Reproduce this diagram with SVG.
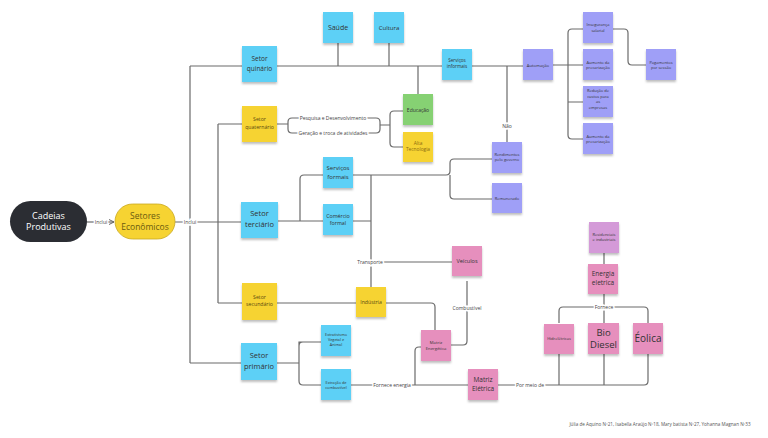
<svg xmlns="http://www.w3.org/2000/svg" width="768" height="438" viewBox="0 0 768 438">
<defs>
<filter id="sh" x="-20%" y="-20%" width="140%" height="150%"><feDropShadow dx="0" dy="2" stdDeviation="1.2" flood-color="#000" flood-opacity="0.25"/></filter>
<marker id="arr" viewBox="0 0 6 6" refX="5" refY="3" markerWidth="5" markerHeight="5" orient="auto"><path d="M0,0.5 L5,3 L0,5.5" fill="none" stroke="#666" stroke-width="1"/></marker>
<style>
.c{fill:none;stroke:#6b6b6b;stroke-width:1.2}
.t{font-family:"Open Sans","Noto Sans",sans-serif;text-anchor:middle;fill:#333}
.lb{font-family:"Open Sans","Noto Sans",sans-serif;text-anchor:middle;fill:#444;stroke:#fff;stroke-width:3;paint-order:stroke;font-size:5px}
.blue{fill:#5dd0f6}
.yel{fill:#f6d332}
.pur{fill:#9f9ff7}
.pink{fill:#e68fbd}
.grn{fill:#86d173}
.lil{fill:#d49ad8}
.s{filter:url(#sh)}
</style>
</defs>
<rect width="768" height="438" fill="#fff"/>
<g id="connectors">
<path class="c" d="M87,222 H114" marker-end="url(#arr)"/>
<path class="c" d="M175,222 H241"/>
<path class="c" d="M190,66 V363 M190,66 H242 M190,363 H241"/>
<path class="c" d="M218,124 V303 M218,124 H242 M218,303 H242"/>
<path class="c" d="M277,66 H523 M338,43 V66 M389,43 V66 M418,66 V94"/>
<path class="c" d="M507,66 V142"/>
<path class="c" d="M553,65 H568 M572,29 H583 M568,33 Q568,29 572,29 M568,33 V135 Q568,139 572,139 H583 M568,65 H583 M568,102 H583"/>
<path class="c" d="M613,29 H624 Q628,29 628,33 V61 Q628,65 632,65 H646"/>
<path class="c" d="M277,124 H288 M288,122 V122 M292,118 Q288,118 288,122 V129 Q288,133 292,133 H376 Q380,133 380,129 V122 Q380,118 376,118 H292 M380,125 H390 M394,111 Q390,111 390,115 V143 Q390,147 394,147 H403 M394,111 H403"/>
<path class="c" d="M278,221 H323 M300,221 V179 Q300,175 304,175 H323 M353,175 H446 Q450,175 450,171 V163 Q450,159 454,159 H492 M450,175 V195 Q450,199 454,199 H492 M353,221 H371 M371,175 V287"/>
<path class="c" d="M371,262 H452"/>
<path class="c" d="M277,303 H356 M386,303 H431 Q435,303 435,307 V330"/>
<path class="c" d="M467,281 V341 Q467,345 463,345 H451"/>
<path class="c" d="M277,363 H299 M303,342 Q299,342 299,346 V381 Q299,385 303,385 H321 M299,346 V342 H321"/>
<path class="c" d="M351,385 H468 M415,385 V351 Q415,347 419,347 H421"/>
<path class="c" d="M498,385 H644 Q648,385 648,381 V354 M559,354 V385 M604,354 V385"/>
<path class="c" d="M604,253 V264 M604,294 V323 M563,307 H644 Q648,307 648,311 V323 M559,323 V311 Q559,307 563,307"/>
</g>
<g id="cadeias"><rect x="10" y="201" width="77" height="41" rx="20.5" fill="#2b2d33"/><text class="t" x="48.5" y="218.5" font-size="9" fill="#fff" style="fill:#fff">Cadeias</text><text class="t" x="48.5" y="230" font-size="9" style="fill:#fff">Produtivas</text></g>
<text class="lb" x="101" y="224" font-size="5">Inclui</text>
<g id="setores"><rect x="115" y="204" width="60" height="35" rx="17.5" fill="#f6d332" stroke="#c9a820" stroke-width="0.8"/><text class="t" x="145" y="219" font-size="8.5" style="fill:#6a5a10">Setores</text><text class="t" x="145" y="230" font-size="8.5" style="fill:#6a5a10">Econômicos</text></g>
<text class="lb" x="190" y="224">Inclui</text>
<g id="quinario"><rect class="blue s" x="242" y="46" width="35" height="36"/><text class="t" x="259.5" y="61" font-size="6.5">Setor</text><text class="t" x="259.5" y="71" font-size="6.5">quinário</text></g>
<g id="saude"><rect class="blue s" x="323" y="12" width="30" height="31"/><text class="t" x="338" y="30" font-size="7">Saúde</text></g>
<g id="cultura"><rect class="blue s" x="374" y="12" width="30" height="31"/><text class="t" x="389" y="29.5" font-size="6">Cultura</text></g>
<g id="informais"><rect class="blue s" x="442" y="49" width="30" height="31"/><text class="t" x="457" y="62" font-size="4.6">Serviços</text><text class="t" x="457" y="68" font-size="4.6">informais</text></g>
<g id="automacao"><rect class="pur s" x="523" y="49" width="30" height="31"/><text class="t" x="538" y="66.5" font-size="4.2">Automação</text></g>
<g id="inseguranca"><rect class="pur s" x="583" y="12" width="30" height="31"/><text class="t" x="598" y="26" font-size="4">Insegurança</text><text class="t" x="598" y="31.5" font-size="4">salarial</text></g>
<g id="precarizacao1"><rect class="pur s" x="583" y="49" width="30" height="31"/><text class="t" x="598" y="63.5" font-size="4">Aumento da</text><text class="t" x="598" y="68.5" font-size="4">precarização</text></g>
<g id="reducao"><rect class="pur s" x="583" y="86" width="30" height="31"/><text class="t" x="598" y="92" font-size="4">Redução de</text><text class="t" x="598" y="97.5" font-size="4">custos para</text><text class="t" x="598" y="103" font-size="4">as</text><text class="t" x="598" y="108.5" font-size="4">empresas</text></g>
<g id="precarizacao2"><rect class="pur s" x="583" y="123" width="30" height="31"/><text class="t" x="598" y="137.5" font-size="4">Aumento da</text><text class="t" x="598" y="142.5" font-size="4">precarização</text></g>
<g id="pagamentos"><rect class="pur s" x="646" y="49" width="30" height="31"/><text class="t" x="661" y="63.5" font-size="4">Pagamentos</text><text class="t" x="661" y="68.5" font-size="4">por sessão</text></g>
<g id="quaternario"><rect class="yel s" x="242" y="106" width="35" height="36"/><text class="t" x="259.5" y="121" font-size="5.2" style="fill:#5a4a10">Setor</text><text class="t" x="259.5" y="128.5" font-size="5.2" style="fill:#5a4a10">quaternário</text></g>
<text class="lb" x="333" y="120">Pesquisa e Desenvolvimento</text>
<text class="lb" x="333" y="135">Geração e troca de atividades</text>
<g id="educacao"><rect class="grn s" x="403" y="94" width="30" height="31"/><text class="t" x="418" y="111.5" font-size="5">Educação</text></g>
<g id="alta"><rect class="yel s" x="403" y="132" width="30" height="30"/><text class="t" x="418" y="145" font-size="4.8" style="fill:#8a6a10">Alta</text><text class="t" x="418" y="151" font-size="4.8" style="fill:#8a6a10">Tecnologia</text></g>
<text class="lb" x="507" y="127.5">Não</text>
<g id="rendimentos"><rect class="pur s" x="492" y="142" width="30" height="31"/><text class="t" x="507" y="155.5" font-size="4">Rendimentos</text><text class="t" x="507" y="160.5" font-size="4">pelo governo</text></g>
<g id="remunerado"><rect class="pur s" x="492" y="183" width="30" height="30"/><text class="t" x="507" y="199.5" font-size="4">Remunerado</text></g>
<g id="terciario"><rect class="blue s" x="241" y="202" width="37" height="36"/><text class="t" x="259.5" y="215.5" font-size="7.5">Setor</text><text class="t" x="259.5" y="227" font-size="7.5">terciário</text></g>
<g id="formais"><rect class="blue s" x="323" y="157" width="30" height="31"/><text class="t" x="338" y="170" font-size="6">Serviços</text><text class="t" x="338" y="179" font-size="6">formais</text></g>
<g id="comercio"><rect class="blue s" x="323" y="204" width="30" height="31"/><text class="t" x="338" y="217.5" font-size="5.3">Comércio</text><text class="t" x="338" y="225" font-size="5.3">formal</text></g>
<text class="lb" x="370" y="264">Transporte</text>
<g id="veiculos"><rect class="pink s" x="452" y="246" width="30" height="30"/><text class="t" x="467" y="262.5" font-size="5.5">Veículos</text></g>
<g id="secundario"><rect class="yel s" x="242" y="283" width="35" height="37"/><text class="t" x="259.5" y="299" font-size="5.2" style="fill:#5a4a10">Setor</text><text class="t" x="259.5" y="306" font-size="5.2" style="fill:#5a4a10">secundário</text></g>
<g id="industria"><rect class="yel s" x="356" y="287" width="30" height="30"/><text class="t" x="371" y="303.5" font-size="5.2" style="fill:#5a4a10">Indústria</text></g>
<text class="lb" x="467" y="310">Combustível</text>
<g id="matrizenerg"><rect class="pink s" x="421" y="330" width="30" height="31"/><text class="t" x="436" y="344" font-size="4.2">Matriz</text><text class="t" x="436" y="349.5" font-size="4.2">Energética</text></g>
<g id="primario"><rect class="blue s" x="241" y="343" width="36" height="37"/><text class="t" x="259" y="358" font-size="7.5">Setor</text><text class="t" x="259" y="369" font-size="7.5">primário</text></g>
<g id="extrativismo"><rect class="blue s" x="321" y="325" width="30" height="31"/><text class="t" x="336" y="336" font-size="3.8">Extrativismo</text><text class="t" x="336" y="341" font-size="3.8">Vegetal e</text><text class="t" x="336" y="346" font-size="3.8">Animal</text></g>
<g id="extracao"><rect class="blue s" x="321" y="369" width="30" height="31"/><text class="t" x="336" y="383.5" font-size="3.8">Extração de</text><text class="t" x="336" y="388.5" font-size="3.8">combustível</text></g>
<text class="lb" x="392" y="387">Fornece energia</text>
<g id="matrizelet"><rect class="pink s" x="468" y="369" width="30" height="31"/><text class="t" x="483" y="382" font-size="6.5">Matriz</text><text class="t" x="483" y="391" font-size="6.5">Elétrica</text></g>
<text class="lb" x="530" y="387">Por meio de</text>
<g id="residenciais"><rect class="lil s" x="589" y="222" width="30" height="31"/><text class="t" x="604" y="236" font-size="4">Residenciais</text><text class="t" x="604" y="241" font-size="4">e industriais</text></g>
<g id="energia"><rect class="pink s" x="588" y="264" width="30" height="30"/><text class="t" x="603" y="276" font-size="6.5">Energia</text><text class="t" x="603" y="285" font-size="6.5">eletrica</text></g>
<text class="lb" x="604" y="309">Fornece</text>
<g id="hidreletricas"><rect class="pink s" x="544" y="324" width="30" height="30"/><text class="t" x="559" y="340" font-size="4">Hidrelétricas</text></g>
<g id="biodiesel"><rect class="pink s" x="588" y="323" width="31" height="31"/><text class="t" x="603.5" y="336" font-size="9.5">Bio</text><text class="t" x="603.5" y="348" font-size="9.5">Diesel</text></g>
<g id="eolica"><rect class="pink s" x="633" y="323" width="30" height="31"/><text class="t" x="648" y="342" font-size="10">Éolica</text></g>
<text class="t" x="660" y="425.5" font-size="4.6" style="fill:#555">Júlia de Aquino Nº21, Isabella Araújo Nº18, Mary batista Nº27, Yohanna Magnan Nº33</text>
</svg>
